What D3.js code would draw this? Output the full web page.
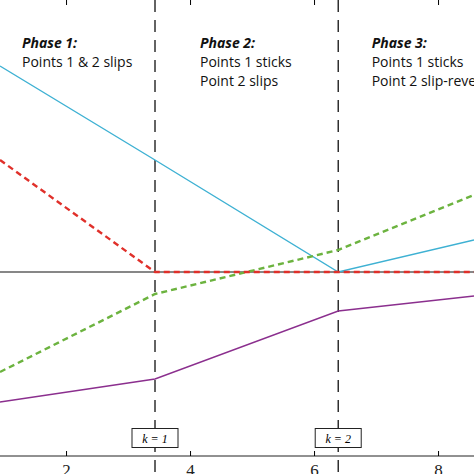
<!DOCTYPE html>
<html><head><meta charset="utf-8">
<script src="https://cdn.jsdelivr.net/npm/d3@7"></script>
<style>body{margin:0;background:#fff}</style></head>
<body><div id="chart"></div>
<script>
var xs = [0.935, 3.435, 6.39, 8.58];
var cyan = [2.06, 1.12, 0, 0.32];
var red = [1.12, 0, 0, 0];
var green = [-1.0, -0.22, 0.22, 0.77];
var purple = [-1.30, -1.07, -0.39, -0.24];
var xTicks = [2, 4, 6, 8];
var phaseX = [3.435, 6.39];
var phaseLabels = ["k = 1", "k = 2"];
var phases = [
  { x: 1.29, title: "Phase 1:", lines: ["Points 1 & 2 slips"] },
  { x: 4.16, title: "Phase 2:", lines: ["Points 1 sticks", "Point 2 slips"] },
  { x: 6.93, title: "Phase 3:", lines: ["Points 1 sticks", "Point 2 slip-reversal"] }
];

var width = 474, height = 474;
var svg = d3.select("#chart").append("svg").attr("width", width).attr("height", height);
var x = d3.scaleLinear().domain([0.935, 8.58]).range([0, 474]);
var y = d3.scaleLinear().domain([-1.84, 2.72]).range([456, 0]);
var axisY = 456;

// frame ticks
svg.append("line").attr("x1", 0).attr("x2", width).attr("y1", axisY).attr("y2", axisY).attr("stroke", "#222");
svg.append("g").attr("transform", "translate(0," + axisY + ")")
  .call(d3.axisBottom(x).tickValues(xTicks).tickSizeInner(-5).tickSizeOuter(0).tickPadding(8))
  .call(function(g) {
    g.select(".domain").remove();
    g.selectAll("text").style("font-family", "Liberation Serif").style("font-size", "17px").attr("fill", "#222");
  });
svg.append("g")
  .call(d3.axisTop(x).tickValues(xTicks).tickSizeInner(-5).tickSizeOuter(0).tickFormat(""))
  .call(function(g) { g.select(".domain").remove(); });

// zero line
svg.append("line").attr("x1", 0).attr("x2", width).attr("y1", y(0)).attr("y2", y(0)).attr("stroke", "#111").attr("stroke-width", 1.2);

// phase boundaries
phaseX.forEach(function(px, i) {
  svg.append("line").attr("x1", x(px)).attr("x2", x(px)).attr("y1", 0).attr("y2", height)
    .attr("stroke", "#111").attr("stroke-width", 1.3).attr("stroke-dasharray", "12,8");
  var bx = x(px), by = 438;
  svg.append("rect").attr("x", bx - 23).attr("y", by - 9.5).attr("width", 46).attr("height", 19)
    .attr("fill", "#fff").attr("stroke", "#222");
  svg.append("text").attr("x", bx).attr("y", by + 4.5).attr("text-anchor", "middle")
    .style("font-family", "Liberation Serif").style("font-style", "italic").style("font-size", "12px")
    .text(phaseLabels[i]);
});

var line = d3.line().x(function(d) { return x(d[0]); }).y(function(d) { return y(d[1]); });
function draw(vals, color, dash, w) {
  svg.append("path").datum(d3.zip(xs, vals)).attr("d", line).attr("fill", "none")
    .attr("stroke", color).attr("stroke-width", w).attr("stroke-dasharray", dash);
}
draw(purple, "#8b2f8e", null, 1.4);
draw(cyan, "#3eb1d3", null, 1.4);
draw(green, "#6cb33f", "6,4", 2.4);
draw(red, "#e0302a", "6,4", 2.4);

// phase text
phases.forEach(function(p) {
  var t = svg.append("text").attr("x", x(p.x)).attr("y", 48)
    .style("font-family", "Open Sans").style("font-size", "14px").attr("fill", "#111");
  t.append("tspan").style("font-weight", "bold").style("font-style", "italic").text(p.title);
  p.lines.forEach(function(l) {
    t.append("tspan").attr("x", x(p.x)).attr("dy", 19).text(l);
  });
});
</script></body></html>
